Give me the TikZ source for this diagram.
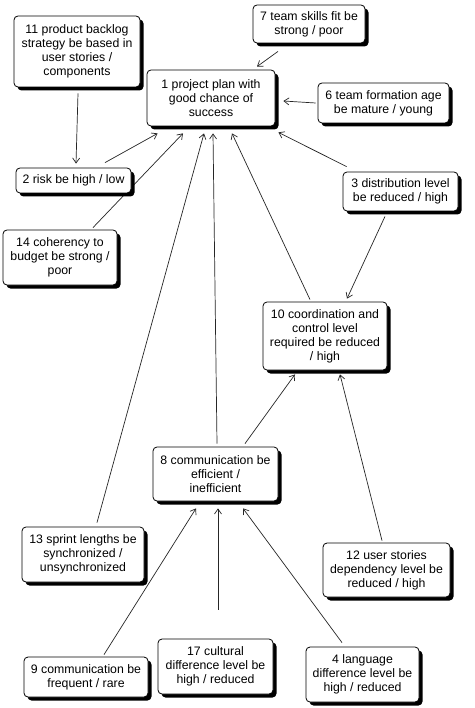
\documentclass[tikz,border=0pt]{standalone}
\usepackage{fontspec}
\setmainfont{Liberation Sans}
\usetikzlibrary{arrows.meta,shadows,backgrounds}
\begin{document}
\begin{tikzpicture}[x=1pt,y=-1pt,
  box/.style={draw=black,line width=0.8pt,rounded corners=4pt,fill=white,align=center,
    font=\fontsize{12.3}{14}\selectfont,inner sep=0pt,
    general shadow={shadow xshift=3.5pt,shadow yshift=-3.5pt,fill=black}},
  arr/.style={draw=black!85,line width=0.7pt,-{Straight Barb[length=5pt,width=7pt]}}]
\useasboundingbox (0,0) rectangle (474,708);

\node[box,minimum width=126pt,minimum height=71pt] (n11) at (77,51.5) {11 product backlog\\strategy be based in\\user stories /\\components};
\node[box,minimum width=128pt,minimum height=56pt] (n1) at (211,98) {1 project plan with\\good chance of\\success};
\node[box,minimum width=112pt,minimum height=38pt] (n7) at (309,24) {7 team skills fit be\\strong / poor};
\node[box,minimum width=131pt,minimum height=40pt] (n6) at (383.5,103) {6 team formation age\\be mature / young};
\node[box,minimum width=115pt,minimum height=25pt] (n2) at (73.5,180.5) {2 risk be high / low};
\node[box,minimum width=114pt,minimum height=55pt] (n14) at (60,257.5) {14 coherency to\\budget be strong /\\poor};
\node[box,minimum width=115pt,minimum height=39pt] (n3) at (400.5,191.5) {3 distribution level\\be reduced / high};
\node[box,minimum width=124pt,minimum height=68pt] (n10) at (325,336) {10 coordination and\\control level\\required be reduced\\/ high};
\node[box,minimum width=125pt,minimum height=54pt] (n8) at (215.5,474) {8 communication be\\efficient /\\inefficient};
\node[box,minimum width=122pt,minimum height=55pt] (n13) at (83,554.5) {13 sprint lengths be\\synchronized /\\unsynchronized};
\node[box,minimum width=127pt,minimum height=54pt] (n12) at (386.5,570) {12 user stories\\dependency level be\\reduced / high};
\node[box,minimum width=124pt,minimum height=40pt] (n9) at (86,677) {9 communication be\\frequent / rare};
\node[box,minimum width=115pt,minimum height=55pt] (n17) at (215.5,666.5) {17 cultural\\difference level be\\high / reduced};
\node[box,minimum width=113pt,minimum height=55pt] (n4) at (362.5,674.5) {4 language\\difference level be\\high / reduced};

\begin{pgfonlayer}{background}
\fill[white] (0,0) rectangle (474,708);
\draw[arr] ([shift={(1,6)}]n11.south) -- ([shift={(2.5,-4)}]n2.north);
\draw[arr] ([shift={(31.5,-5)}]n2.north) -- ([shift={(11,7)}]n1.south west);
\draw[arr] ([shift={(33,-2)}]n14.north) -- ([shift={(-28,7)}]n1.south);
\draw[arr] ([shift={(14,-4)}]n13.north) -- ([shift={(-7,7)}]n1.south);
\draw[arr] ([shift={(1.5,-3)}]n8.north) -- ([shift={(2,7)}]n1.south);
\draw[arr] ([shift={(-15,-2)}]n10.north) -- ([shift={(21,7)}]n1.south);
\draw[arr] ([shift={(-31,8)}]n7.south) -- ([shift={(46,-3)}]n1.north);
\draw[arr] ([shift={(-2,0)}]n6.west) -- ([shift={(8,3)}]n1.east);
\draw[arr] ([shift={(4,-5)}]n3.north west) -- ([shift={(3,6)}]n1.south east);
\draw[arr] ([shift={(-15.5,5)}]n3.south) -- ([shift={(22,-3)}]n10.north);
\draw[arr] ([shift={(29.5,-3)}]n8.north) -- ([shift={(-30,4)}]n10.south);
\draw[arr] ([shift={(-4.5,-2)}]n12.north) -- ([shift={(15,4)}]n10.south);
\draw[arr] ([shift={(18,-2)}]n9.north) -- ([shift={(-19.5,7)}]n8.south);
\draw[arr] ([shift={(2.5,-29)}]n17.north) -- ([shift={(2.5,7)}]n8.south);
\draw[arr] ([shift={(-20.5,-4)}]n4.north) -- ([shift={(27.5,7)}]n8.south);
\end{pgfonlayer}
\end{tikzpicture}
\end{document}
